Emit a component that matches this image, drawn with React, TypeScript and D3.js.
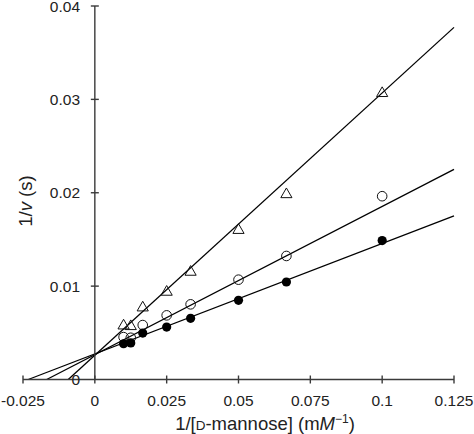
import React from "react";
import * as d3 from "d3";

// 1/[D-mannose] in mM^-1
const invMannose = [0.01, 0.0125, 0.01667, 0.025, 0.03333, 0.05, 0.06667, 0.1];

// 1/v (s) for each series
const filledValues = [0.00383, 0.00392, 0.00497, 0.00561, 0.00655, 0.00848, 0.01044, 0.01488];
const openValues = [0.00454, 0.00447, 0.00583, 0.00687, 0.00805, 0.01069, 0.01323, 0.01963];
const triangleValues = [0.00576, 0.00569, 0.00769, 0.00937, 0.01151, 0.01599, 0.01982, 0.03065];

// fitted lines: slope and intercept, drawn from the x-intercept to the right edge
const lineSlopes = [0.1182, 0.1588, 0.2809];
const lineIntercepts = [0.00274, 0.00266, 0.0026];

const xTicks = [-0.025, 0, 0.025, 0.05, 0.075, 0.1, 0.125];
const xTickLabels = ["-0.025", "0", "0.025", "0.05", "0.075", "0.1", "0.125"];
const yTicks = [0, 0.01, 0.02, 0.03, 0.04];
const yTickLabels = ["0", "0.01", "0.02", "0.03", "0.04"];

const W = 474;
const H = 434;
const font = "'Liberation Sans', Arial, sans-serif";
const axisColor = "#3a3a3a";

export default function App() {
  const x = d3.scaleLinear().domain([-0.025, 0.125]).range([23, 454]);
  const y = d3.scaleLinear().domain([0, 0.04]).range([379.5, 6]);
  const line = d3
    .line<[number, number]>()
    .x((d) => x(d[0]))
    .y((d) => y(d[1]));

  const triangle = d3.symbol().type(d3.symbolTriangle).size(54)() || "";

  const x0 = x(0);
  const y0 = y(0);

  return (
    <div style={{ position: "absolute", left: 0, top: 0 }}>
      <svg width={W} height={H} style={{ display: "block", background: "#fff" }}>
        {/* fitted lines */}
        {lineSlopes.map((m, i) => {
          const b = lineIntercepts[i];
          const pts: [number, number][] = [
            [-b / m, 0],
            [0.125, b + m * 0.125],
          ];
          return (
            <path key={"l" + i} d={line(pts) || ""} fill="none" stroke="#000" strokeWidth={1.3} />
          );
        })}

        {/* axes */}
        <line x1={x(-0.025)} x2={x(0.125)} y1={y0} y2={y0} stroke={axisColor} strokeWidth={1.4} />
        <line x1={x0} x2={x0} y1={y(0.04)} y2={y0} stroke={axisColor} strokeWidth={1.4} />
        {xTicks.map((t, i) => (
          <g key={"xt" + i}>
            <line x1={x(t)} x2={x(t)} y1={y0 - 4} y2={y0 + 4} stroke={axisColor} strokeWidth={1.4} />
            <text
              x={x(t)}
              y={406}
              textAnchor="middle"
              fontFamily={font}
              fontSize={15.5}
              fill="#222"
            >
              {xTickLabels[i]}
            </text>
          </g>
        ))}
        {yTicks.map((t, i) => (
          <g key={"yt" + i}>
            {t !== 0 && (
              <line x1={x0 - 4} x2={x0 + 4} y1={y(t)} y2={y(t)} stroke={axisColor} strokeWidth={1.4} />
            )}
            <text
              x={80}
              y={y(t) + 5.5}
              textAnchor="end"
              fontFamily={font}
              fontSize={15.5}
              fill="#222"
            >
              {yTickLabels[i]}
            </text>
          </g>
        ))}

        {/* markers */}
        {invMannose.map((v, i) => (
          <path
            key={"t" + i}
            d={triangle}
            transform={`translate(${x(v)},${y(triangleValues[i])})`}
            fill="none"
            stroke="#111"
            strokeWidth={1}
          />
        ))}
        {invMannose.map((v, i) => (
          <circle
            key={"o" + i}
            cx={x(v)}
            cy={y(openValues[i])}
            r={4.8}
            fill="none"
            stroke="#111"
            strokeWidth={1}
          />
        ))}
        {invMannose.map((v, i) => (
          <circle key={"f" + i} cx={x(v)} cy={y(filledValues[i])} r={4.6} fill="#000" />
        ))}

        {/* axis titles */}
        <text x={265} y={430} textAnchor="middle" fontFamily={font} fontSize={18.5} fill="#222">
          1/[<tspan fontSize={13.5}>D</tspan>-mannose] (m<tspan fontStyle="italic">M</tspan>
          <tspan dy={-7.5} fontSize={12}>−1</tspan>
          <tspan dy={7.5}>)</tspan>
        </text>
        <text
          transform={`translate(32,201) rotate(-90)`}
          textAnchor="middle"
          fontFamily={font}
          fontSize={18.5}
          fill="#222"
        >
          1/<tspan fontStyle="italic">v</tspan> (s)
        </text>
      </svg>
    </div>
  );
}
